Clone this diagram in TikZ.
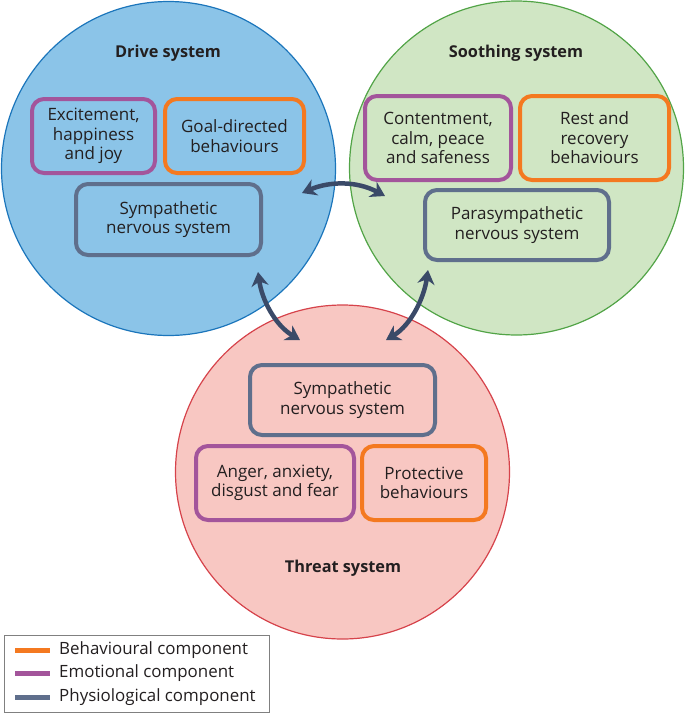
\documentclass[tikz,border=0pt]{standalone}
\usepackage{fontspec}
\setmainfont{Open Sans}
\usetikzlibrary{arrows.meta}
\definecolor{drivefill}{HTML}{8BC4E8}
\definecolor{drivedraw}{HTML}{1B75BB}
\definecolor{soothfill}{HTML}{D0E6C4}
\definecolor{soothdraw}{HTML}{52A447}
\definecolor{threatfill}{HTML}{F8C7C2}
\definecolor{threatdraw}{HTML}{D6434B}
\definecolor{purplec}{HTML}{A3559B}
\definecolor{orangec}{HTML}{F47920}
\definecolor{slatec}{HTML}{5F6F8C}
\definecolor{arrowc}{HTML}{3A4A68}
\definecolor{textc}{HTML}{231F20}
\tikzset{
  syscircle/.style={circle, minimum size=334pt, inner sep=0pt, line width=1.2pt},
  comp/.style={draw, line width=4pt, rounded corners=12pt, align=center,
    font=\fontsize{17}{19.5}\selectfont, text=textc, inner sep=0pt},
  emo/.style={comp, draw=purplec},
  beh/.style={comp, draw=orangec},
  phys/.style={comp, draw=slatec},
  title/.style={font=\fontsize{16.3}{19}\selectfont\bfseries, text=textc},
  link/.style={draw=arrowc, line width=4.5pt,
    {Stealth[length=14pt 0,width=17pt 0,inset=4.5pt]}-{Stealth[length=14pt 0,width=17pt 0,inset=4.5pt]}},
  legline/.style={line width=5pt},
  legtext/.style={font=\fontsize{16.9}{19}\selectfont, text=textc, anchor=west, inner sep=0pt}
}
\begin{document}
\begin{tikzpicture}[x=1pt,y=-1pt]
\useasboundingbox (0,0) rectangle (685,713);
% circles
\node[syscircle, fill=threatfill, draw=threatdraw] (threat) at (342.5,472) {};
\node[syscircle, fill=drivefill, draw=drivedraw] (drive) at (168.5,168.5) {};
\node[syscircle, fill=soothfill, draw=soothdraw] (sooth) at (516.5,168) {};
% titles
\node[title] (tdrive) at (168,53) {Drive system};
\node[title] (tsooth) at (516,53) {Soothing system};
\node[title] (tthreat) at (343,568) {Threat system};
% drive boxes
\node[emo, minimum width=123pt, minimum height=74pt] (exc) at (93.5,136) {Excitement,\\happiness\\and joy};
\node[beh, minimum width=139pt, minimum height=74pt] (goal) at (234.5,136) {Goal-directed\\behaviours};
\node[phys, minimum width=185pt, minimum height=71pt] (symd) at (168.5,219.5) {Sympathetic\\nervous system};
% soothing boxes
\node[emo, minimum width=146pt, minimum height=84pt] (cont) at (438,138) {Contentment,\\calm, peace\\and safeness};
\node[beh, minimum width=149pt, minimum height=84pt] (rest) at (594.5,138) {Rest and\\recovery\\behaviours};
\node[phys, minimum width=184pt, minimum height=70pt] (para) at (517,225) {Parasympathetic\\nervous system};
% threat boxes
\node[phys, minimum width=185pt, minimum height=70pt] (symt) at (342.5,400) {Sympathetic\\nervous system};
\node[emo, minimum width=158pt, minimum height=74pt] (anger) at (275,483) {Anger, anxiety,\\disgust and fear};
\node[beh, minimum width=124pt, minimum height=74pt] (prot) at (424,483) {Protective\\behaviours};
% arrow end points
\coordinate (dsA) at (302,193);
\coordinate (dsB) at (385,196);
\coordinate (dtA) at (258,272);
\coordinate (dtB) at (300,340);
\coordinate (stA) at (428,270);
\coordinate (stB) at (386,340);
\draw[link] (dsA) .. controls (330,181) and (357,181) .. (dsB);
\draw[link] (dtA) .. controls (262,300) and (275,325) .. (dtB);
\draw[link] (stA) .. controls (424,298) and (411,325) .. (stB);
% legend
\node[draw=black!50, line width=0.8pt, minimum width=265pt, minimum height=77pt, inner sep=0pt] (legend) at (136.5,673.5) {};
\coordinate (l1a) at (15,650); \coordinate (l1b) at (50,650);
\coordinate (l2a) at (15,673); \coordinate (l2b) at (50,673);
\coordinate (l3a) at (15,697); \coordinate (l3b) at (50,697);
\draw[legline, draw=orangec] (l1a) -- (l1b);
\draw[legline, draw=purplec] (l2a) -- (l2b);
\draw[legline, draw=slatec] (l3a) -- (l3b);
\node[legtext] (lt1) at (59,650) {Behavioural component};
\node[legtext] (lt2) at (59,673) {Emotional component};
\node[legtext] (lt3) at (59,697) {Physiological component};
\end{tikzpicture}
\end{document}
